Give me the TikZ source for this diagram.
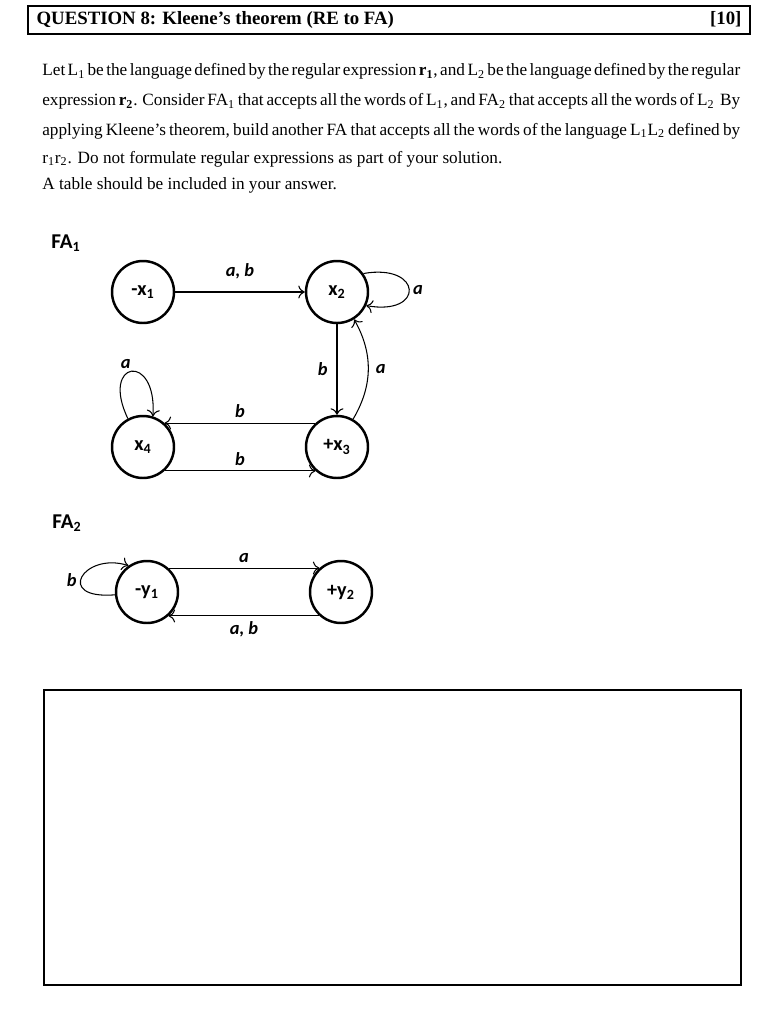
\documentclass[tikz,border=0pt]{standalone}
\usepackage{fontspec}
\setmainfont{Liberation Serif}
\newfontfamily\labelfont{Carlito}
\usetikzlibrary{arrows.meta,calc}
\newcommand\qspace{\spaceskip=0.15em plus 1em minus 0.05em\relax}
\newcommand\qfill[1]{\makebox[13.96cm][s]{\qspace #1}}
\tikzset{titlebox/.style={draw,line width=0.9pt,minimum width=14.44cm,minimum height=0.56cm,inner sep=0pt,font=\fontsize{10.7}{12}\selectfont\bfseries},qline/.style={anchor=base west,inner sep=0pt,font=\fontsize{9.8}{12}\selectfont},falabel/.style={font=\labelfont\bfseries\fontsize{12}{14}\selectfont},fastate/.style={draw,circle,line width=1.4pt,minimum size=1.24cm,inner sep=0pt,font=\labelfont\bfseries\fontsize{11.5}{13}\selectfont},trans/.style={-{To[length=1.3mm,width=2.6mm]},line width=0.6pt},elabel/.style={font=\labelfont\bfseries\itshape\fontsize{10.5}{12}\selectfont,inner sep=2pt},boxline/.style={line width=0.8pt}}

\begin{document}
\begin{tikzpicture}[x=0.02cm,y=0.02cm]
\useasboundingbox (0,0) rectangle (768,-1024);
% header
\node[titlebox] (head) at (389,-20) {\makebox[14.1cm]{QUESTION 8: Kleene’s theorem (RE to FA)\hfill[10]}};
% question text
\node[qline] (l1) at (42,-76) {\qfill{Let L\textsubscript{1} be the language defined by the regular expression \textbf{r\textsubscript{1}}, and L\textsubscript{2} be the language defined by the regular}};
\node[qline] (l2) at (42,-106) {\qfill{expression \textbf{r\textsubscript{2}}. Consider FA\textsubscript{1} that accepts all the words of L\textsubscript{1}, and FA\textsubscript{2} that accepts all the words of L\textsubscript{2}\ \ By}};
\node[qline] (l3) at (42,-135) {\qfill{applying Kleene’s theorem, build another FA that accepts all the words of the language L\textsubscript{1}L\textsubscript{2} defined by}};
\node[qline] (l4) at (42,-163) {r\textsubscript{1}r\textsubscript{2}. Do not formulate regular expressions as part of your solution.};
\node[qline] (l5) at (42,-189) {A table should be included in your answer.};
% FA1
\node[falabel] (fa1) at (66,-243) {FA\textsubscript{1}};
\node[fastate] (x1) at (143,-292) {-x\textsubscript{1}};
\node[fastate] (x2) at (337,-292) {x\textsubscript{2}};
\node[fastate] (x4) at (143,-447) {x\textsubscript{4}};
\node[fastate] (x3) at (337,-447) {+x\textsubscript{3}};
\draw[trans] (x1) -- node[elabel,above=5pt] {a, b} (x2);
\draw[trans] (x2.35) .. controls +(10:60) and +(-10:60) .. node[elabel,right] {a} (x2.-25);
\draw[trans] (x2) -- node[elabel,left=3pt] {b} (x3);
\draw[trans] (x3.60) to[bend right=30] node[elabel,right=2pt] {a} (x2.-58);
\draw[trans] (x3.132) -- node[elabel,above=1pt] {b} (x4.48);
\draw[trans] (x4.-48) -- node[elabel,above=1pt] {b} (x3.-132);
\draw[trans] (x4.118) .. controls +(-28,58) and +(4,65) .. node[elabel,pos=0.4,above=1pt] {a} (x4.72);
% FA2
\node[falabel] (fa2) at (67,-523) {FA\textsubscript{2}};
\node[fastate] (y1) at (147,-592) {-y\textsubscript{1}};
\node[fastate] (y2) at (341,-592) {+y\textsubscript{2}};
\draw[trans] (y1.48) -- node[elabel,above=1pt] {a} (y2.132);
\draw[trans] (y2.-132) -- node[elabel,below=1pt] {a, b} (y1.-48);
\draw[trans] (y1.185) .. controls +(-61,-5) and +(-45,14) .. node[elabel,pos=0.45,left] {b} (y1.125);
% answer box
\draw[boxline] (44,-690) rectangle (741,-985);
\end{tikzpicture}
\end{document}
